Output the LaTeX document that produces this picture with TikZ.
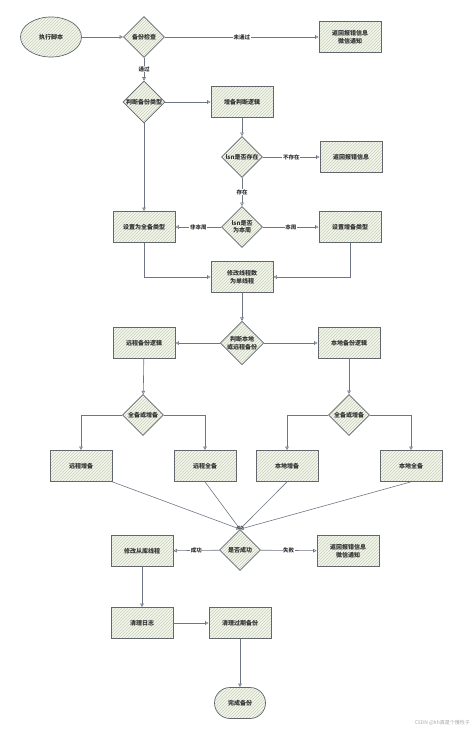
\documentclass[tikz,border=0pt]{standalone}
\usepackage{fontspec}
\newfontfamily\cjk{Noto Sans CJK SC}
\usetikzlibrary{shapes.geometric,shapes.misc,arrows.meta,patterns}
\definecolor{strokegray}{HTML}{62676E}
\definecolor{linegray}{HTML}{6E7584}
\definecolor{fillbg}{HTML}{F5F7F0}
\definecolor{hatch}{HTML}{C6D0B6}
\definecolor{txt}{HTML}{333333}
\tikzset{
  base/.style={draw=strokegray, line width=0.7pt, font=\cjk\bfseries\fontsize{6}{7.5}\selectfont, text=txt, align=center,
    preaction={fill=fillbg}, pattern=north east lines, pattern color=hatch},
  box/.style={base, rectangle, minimum width=62pt, minimum height=31pt, inner sep=1pt},
  dia/.style={base, diamond, minimum width=41pt, minimum height=41pt, inner sep=0pt},
  arr/.style={draw=linegray, line width=0.6pt, -{Triangle[open,length=3.5pt,width=3.5pt]}},
  lab/.style={font=\cjk\bfseries\fontsize{5.5}{6.5}\selectfont, text=txt, fill=white, inner sep=0.6pt},
}
\begin{document}
\begin{tikzpicture}[x=1pt,y=-1pt]
\useasboundingbox (0,0) rectangle (474,730);
\node[base, ellipse, minimum width=61pt, minimum height=40pt, inner sep=0pt] (start) at (51,37) {执行脚本};
\node[dia] (chk) at (144,37) {备份检查};
\node[box] (err1) at (350,37) {返回报错信息\\微信通知};
\node[dia] (type) at (144,102) {判断备份类型};
\node[box] (incr) at (242,102) {增备判断逻辑};
\node[dia] (lsn) at (242,157) {lsn是否存在};
\node[box] (err2) at (351,157) {返回报错信息};
\node[dia] (week) at (242,227) {lsn是否\\为本周};
\node[box] (full) at (144,227) {设置为全备类型};
\node[box] (setinc) at (350,227) {设置增备类型};
\node[box] (thr) at (242,277) {修改线程数\\为单线程};
\node[dia] (loc) at (242,343) {判断本地\\或远程备份};
\node[box] (rlogic) at (144,343) {远程备份逻辑};
\node[box] (llogic) at (349,343) {本地备份逻辑};
\node[dia] (rd) at (143,415) {全备或增备};
\node[dia] (ld) at (349,415) {全备或增备};
\node[box] (rinc) at (81,466) {远程增备};
\node[box] (rfull) at (205,466) {远程全备};
\node[box] (linc) at (287,466) {本地增备};
\node[box] (lfull) at (411,466) {本地全备};
\node[dia] (ok) at (240,550) {是否成功};
\node[box] (slave) at (142,551) {修改从库线程};
\node[box] (err3) at (348,551) {返回报错信息\\微信通知};
\node[box] (log) at (142,623) {清理日志};
\node[box] (exp) at (240,623) {清理过期备份};
\node[base, rounded rectangle, minimum width=53pt, minimum height=31pt, inner sep=1pt] (done) at (240,703) {完成备份};

\draw[arr] (start) -- (chk);
\draw[arr] (chk) -- node[lab] {未通过} (err1);
\draw[arr] (chk) -- node[lab] {通过} (type);
\draw[arr] (type) -- (incr);
\draw[arr] (type) -- (full);
\draw[arr] (incr) -- (lsn);
\draw[arr] (lsn) -- node[lab] {不存在} (err2);
\draw[arr] (lsn) -- node[lab] {存在} (week);
\draw[arr] (week) -- node[lab] {非本周} (full);
\draw[arr] (week) -- node[lab] {本周} (setinc);
\draw[arr] (full.south) |- (thr.west);
\draw[arr] (setinc.south) |- (thr.east);
\draw[arr] (thr) -- (loc);
\draw[arr] (loc) -- (rlogic);
\draw[arr] (loc) -- (llogic);
\draw[arr] (rlogic) -- (rd);
\draw[arr] (llogic) -- (ld);
\draw[arr] (rd.west) -| (rinc.north);
\draw[arr] (rd.east) -| (rfull.north);
\draw[arr] (ld.west) -| (linc.north);
\draw[arr] (ld.east) -| (lfull.north);
\draw[arr] (rinc.south east) -- (ok.north);
\draw[arr] (rfull.south) -- (ok.north);
\draw[arr] (linc.south) -- (ok.north);
\draw[arr] (lfull.south) -- (ok.north);
\node[font=\cjk\fontsize{3.5}{4}\selectfont, text=txt, inner sep=0pt, anchor=south] (oklab) at ([yshift=-0.5pt]ok.north) {成功};
\draw[arr] (ok) -- node[lab] {成功} (slave);
\draw[arr] (ok) -- node[lab] {失败} (err3);
\draw[arr] (slave) -- (log);
\draw[arr] (log) -- (exp);
\draw[arr] (exp) -- (done);
\node[font=\cjk\fontsize{5}{6}\selectfont, text=black!35, anchor=east, inner sep=0pt] (wm) at (470,723) {CSDN @hh真是个慢性子};
\end{tikzpicture}
\end{document}
